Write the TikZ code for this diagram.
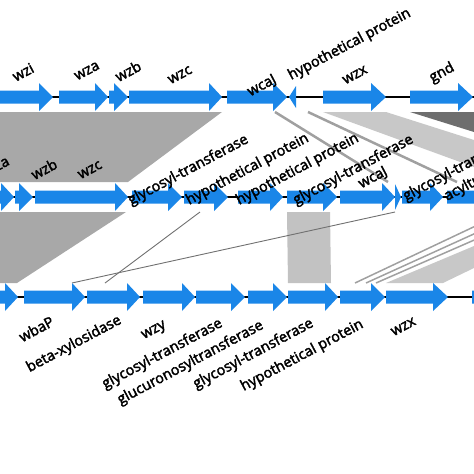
\documentclass[tikz,border=0pt]{standalone}
\usepackage{fontspec}
\setmainfont{Open Sans}
\newfontfamily\labfont[FakeBold=2.5]{Open Sans}
\definecolor{geneblue}{HTML}{1A86E8}
\definecolor{bandgray}{HTML}{A8A8A8}
\definecolor{lightband}{HTML}{C8C8C8}
\definecolor{rectgray}{HTML}{C2C2C2}
\definecolor{darkband}{HTML}{6E6E6E}
\definecolor{thinline}{HTML}{A0A0A0}
\definecolor{darkline}{HTML}{707070}
\newcommand{\genearrow}[4]{%
  \fill[geneblue] (#1,#3-6.5) -- (#4,#3-6.5) -- (#4,#3-14) -- (#2,#3) -- (#4,#3+14) -- (#4,#3+6.5) -- (#1,#3+6.5) -- cycle;}
\tikzset{
  lab/.style={font=\labfont\fontsize{14.5}{16}\selectfont, rotate=28, inner sep=0pt, text=black},
  backbone/.style={line width=2pt, black},
  homline/.style={line width=2.5pt, thinline},
  crossline/.style={line width=0.9pt, darkline},
}
\begin{document}
\begin{tikzpicture}[x=1pt,y=-1pt]
\useasboundingbox (0,0) rectangle (474,474);
\begin{scope}
\clip (0,0) rectangle (474,474);
% homology bands row1-row2
\fill[bandgray] (-5,112) -- (222,112) -- (128,182) -- (-5,182) -- cycle;
\fill[lightband] (323,112) -- (386,112) -- (606,182) -- (515,182) -- cycle;
\fill[darkband] (410,112) -- (480,112) -- (700,182) -- (634,182) -- cycle;
\draw[homline] (275,112) -- (388,182);
\draw[homline] (308,112) -- (457,182);
% homology bands row2-row3
\fill[bandgray] (-5,212) -- (126,212) -- (17,283) -- (-5,283) -- cycle;
\fill[rectgray] (287,212) -- (330,212) -- (331,283) -- (288,283) -- cycle;
\fill[lightband] (386,283) -- (443,283) -- (474,268) -- (474,246) -- cycle;
\draw[homline, line width=1.5pt] (355,283) -- (520,205);
\draw[homline, line width=1.5pt] (366,283) -- (520,213);
\draw[homline, line width=1.5pt] (376,283) -- (520,220);
\draw[crossline] (200,212) -- (105,283);
\draw[crossline] (395,212) -- (72,283);
% backbones
\draw[backbone] (-5,97) -- (480,97);
\draw[backbone] (-5,197) -- (480,197);
\draw[backbone] (-5,297) -- (480,297);
% row 1 genes
\genearrow{-30}{53}{97}{39}
\genearrow{59}{108}{97}{95}
\genearrow{109}{128}{97}{114}
\genearrow{129}{222}{97}{209}
\genearrow{227}{287}{97}{273}
\fill[geneblue] (289,97) -- (296,86) -- (296,108) -- cycle;
\genearrow{323}{386}{97}{371}
\genearrow{410}{473}{97}{458}
% row 2 genes
\genearrow{-30}{14}{197}{1}
\genearrow{15}{33}{197}{19}
\genearrow{35}{128}{197}{115}
\genearrow{132}{182}{197}{168}
\genearrow{184}{228}{197}{214}
\genearrow{238}{283}{197}{270}
\genearrow{287}{337}{197}{323}
\genearrow{340}{395}{197}{382}
\fill[geneblue] (395,184) -- (401,197) -- (395,210) -- cycle;
\genearrow{402}{443}{197}{430}
\genearrow{447}{520}{197}{505}
% row 3 genes
\genearrow{-30}{18}{297}{5}
\genearrow{24}{85}{297}{72}
\genearrow{87}{140}{297}{127}
\genearrow{143}{195}{297}{182}
\genearrow{196}{245}{297}{231}
\genearrow{248}{287}{297}{273}
\genearrow{288}{338}{297}{325}
\genearrow{340}{385}{297}{371}
\genearrow{386}{448}{297}{433}
\genearrow{472}{540}{297}{525}
% row 1 labels
\node[lab] (r1a) at (23,72) {wzi};
\node[lab] (r1b) at (87,71) {wza};
\node[lab] (r1c) at (128,71) {wzb};
\node[lab] (r1d) at (180,75) {wzc};
\node[lab] (r1e) at (262,86) {wcaJ};
\node[lab, anchor=base west] (r1f) at (291,80) {hypothetical protein};
\node[lab] (r1g) at (355,75) {wzx};
\node[lab] (r1h) at (442,73) {gnd};
% row 2 labels
\node[lab] (r2a) at (-3,167) {wza};
\node[lab] (r2b) at (44,169) {wzb};
\node[lab] (r2c) at (90,170) {wzc};
\node[lab, anchor=base west] (r2d) at (131,205) {glycosyl-transferase};
\node[lab, anchor=base west] (r2e) at (189,205) {hypothetical protein};
\node[lab, anchor=base west] (r2f) at (239,205) {hypothetical protein};
\node[lab, anchor=base west] (r2g) at (296,205) {glycosyl-transferase};
\node[lab] (r2h) at (373,178) {wcaJ};
\node[lab, anchor=base west] (r2i) at (406,201) {glycosyl-transferase};
\node[lab, anchor=base west] (r2j) at (447,201) {acyltransferase};
% row 3 labels
\node[lab, anchor=north east] (r3a) at (50,315) {wbaP};
\node[lab, anchor=north east] (r3b) at (117,313) {beta-xylosidase};
\node[lab, anchor=north east] (r3c) at (163,320) {wzy};
\node[lab, anchor=north east] (r3d) at (218,316) {glycosyl-transferase};
\node[lab, anchor=north east] (r3e) at (259,318) {glucuronosyltransferase};
\node[lab, anchor=north east] (r3f) at (309,316) {glycosyl-transferase};
\node[lab, anchor=north east] (r3g) at (359,317) {hypothetical protein};
\node[lab, anchor=north east] (r3h) at (413,317) {wzx};
\end{scope}
\end{tikzpicture}
\end{document}
